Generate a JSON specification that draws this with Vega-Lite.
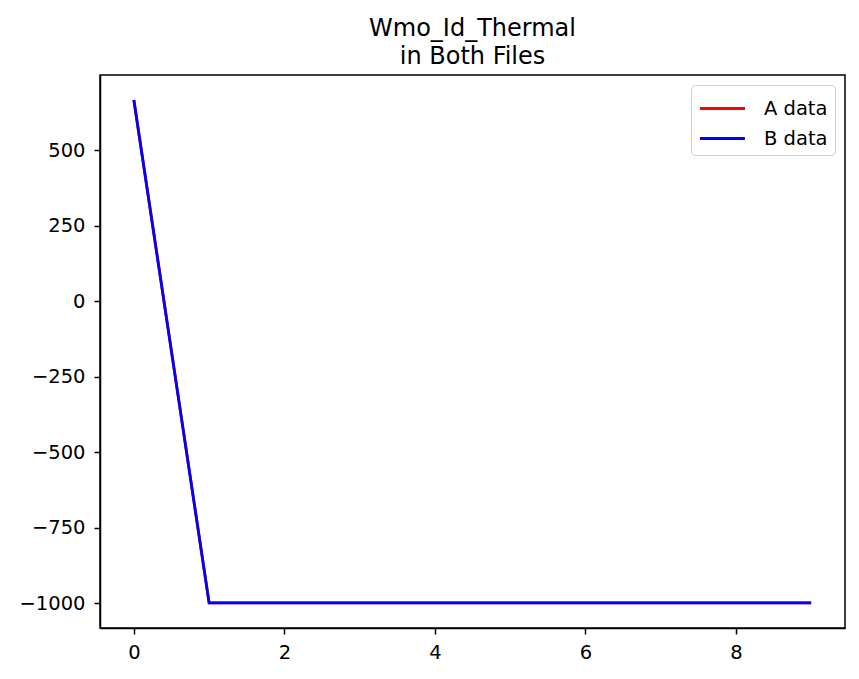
{
  "$schema": "https://vega.github.io/schema/vega-lite/v6.json",
  "autosize": "none",
  "width": 745,
  "height": 553,
  "padding": {"left": 100, "top": 75, "right": 14, "bottom": 51},
  "background": "white",
  "title": {
    "text": ["Wmo_Id_Thermal", "in Both Files"],
    "font": "DejaVu Sans",
    "fontSize": 24,
    "fontWeight": "normal",
    "color": "black",
    "anchor": "middle",
    "offset": 6,
    "lineHeight": 28
  },
  "config": {
    "view": {"stroke": "black", "strokeWidth": 1.5},
    "axis": {
      "labelFont": "DejaVu Sans",
      "labelFontSize": 19.5,
      "labelColor": "black",
      "domainColor": "black",
      "domainWidth": 1.5,
      "tickColor": "black",
      "tickWidth": 1.5,
      "tickSize": 6,
      "labelPadding": 9,
      "grid": false,
      "title": null
    }
  },
  "data": {
    "values": [
      {"x": 0, "y": 666, "series": "A data"},
      {"x": 1, "y": -999, "series": "A data"},
      {"x": 2, "y": -999, "series": "A data"},
      {"x": 3, "y": -999, "series": "A data"},
      {"x": 4, "y": -999, "series": "A data"},
      {"x": 5, "y": -999, "series": "A data"},
      {"x": 6, "y": -999, "series": "A data"},
      {"x": 7, "y": -999, "series": "A data"},
      {"x": 8, "y": -999, "series": "A data"},
      {"x": 9, "y": -999, "series": "A data"},
      {"x": 0, "y": 666, "series": "B data"},
      {"x": 1, "y": -999, "series": "B data"},
      {"x": 2, "y": -999, "series": "B data"},
      {"x": 3, "y": -999, "series": "B data"},
      {"x": 4, "y": -999, "series": "B data"},
      {"x": 5, "y": -999, "series": "B data"},
      {"x": 6, "y": -999, "series": "B data"},
      {"x": 7, "y": -999, "series": "B data"},
      {"x": 8, "y": -999, "series": "B data"},
      {"x": 9, "y": -999, "series": "B data"}
    ]
  },
  "mark": {"type": "line", "strokeWidth": 2.8},
  "encoding": {
    "x": {
      "field": "x",
      "type": "quantitative",
      "scale": {"domain": [-0.45, 9.45], "nice": false, "zero": false},
      "axis": {"values": [0, 2, 4, 6, 8], "format": "d"}
    },
    "y": {
      "field": "y",
      "type": "quantitative",
      "scale": {"domain": [-1082, 749], "nice": false, "zero": false},
      "axis": {"values": [-1000, -750, -500, -250, 0, 250, 500], "format": "d"}
    },
    "color": {
      "field": "series",
      "type": "nominal",
      "scale": {"domain": ["A data", "B data"], "range": ["red", "blue"]},
      "legend": {
        "title": null,
        "orient": "top-right",
        "offset": 10,
        "symbolType": "M-1.5,0H1.5",
        "symbolSize": 900,
        "symbolStrokeWidth": 2.8,
        "symbolFillColor": "transparent",
        "symbolOffset": 8,
        "labelFont": "DejaVu Sans",
        "labelFontSize": 19.5,
        "labelColor": "black",
        "labelOffset": 25,
        "strokeColor": "#d0d0d0",
        "fillColor": "white",
        "cornerRadius": 4,
        "padding": 7,
        "rowPadding": 4
      }
    },
    "order": {"field": "series"}
  }
}
